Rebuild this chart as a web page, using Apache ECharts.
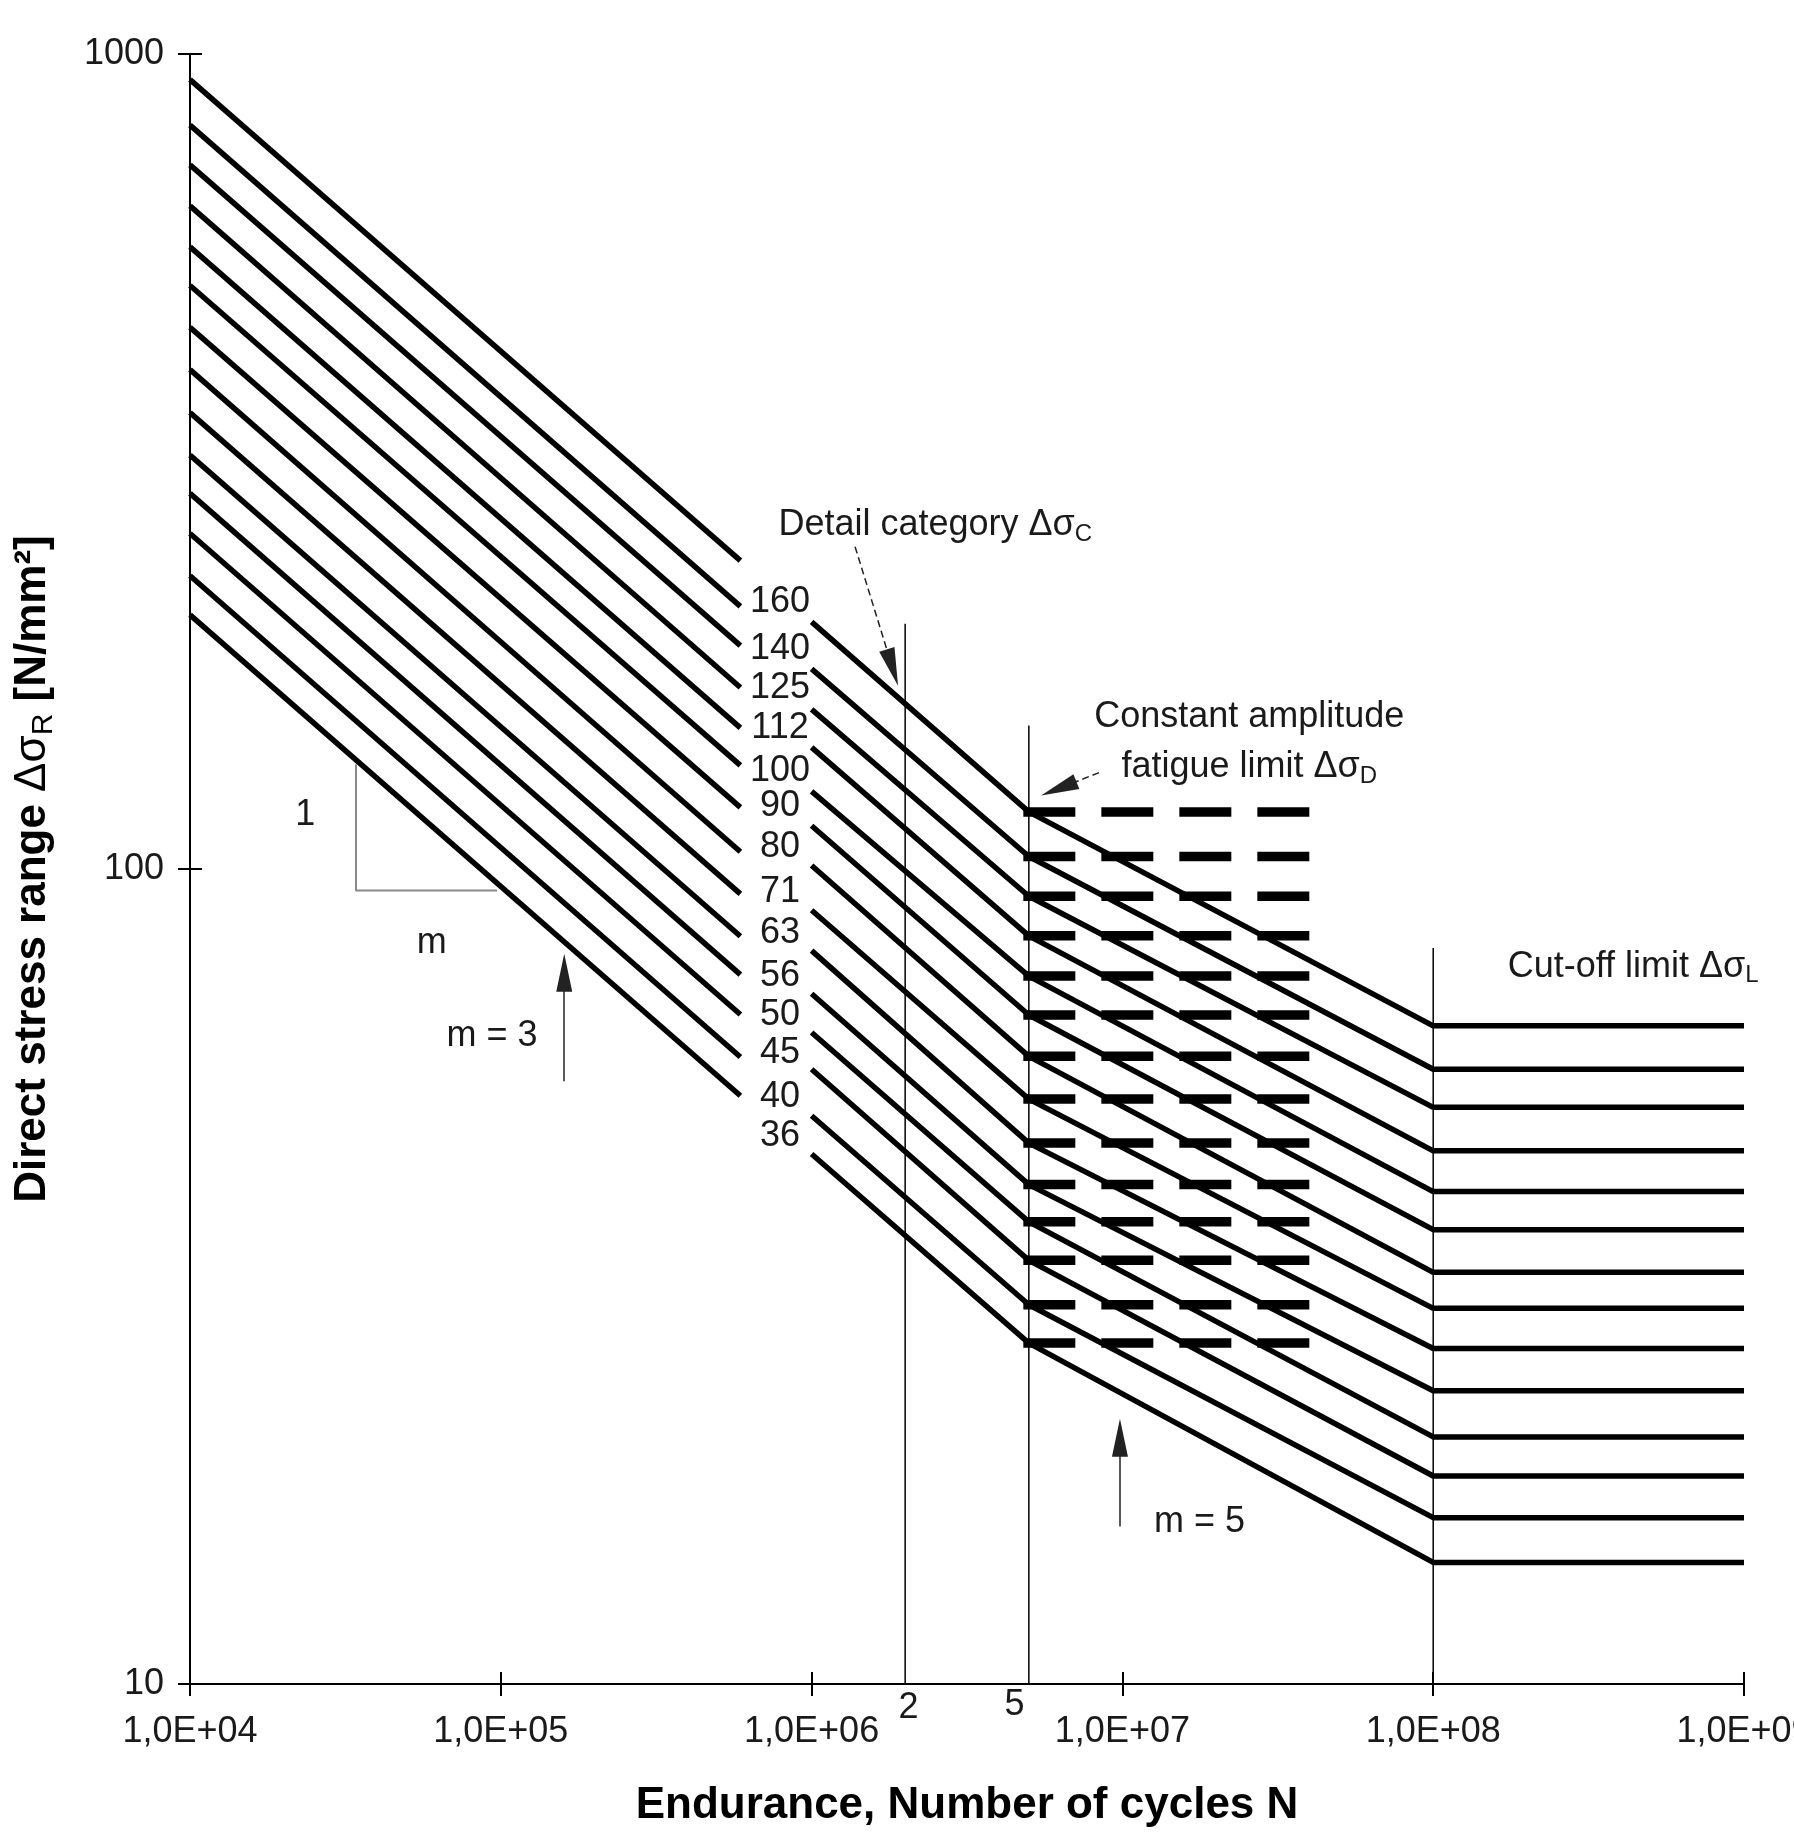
<!DOCTYPE html>
<html>
<head>
<meta charset="utf-8">
<script src="https://cdn.jsdelivr.net/npm/echarts@6/dist/echarts.min.js"></script>
<style>
  html, body { margin: 0; padding: 0; background: #fff; }
  #chart { width: 1794px; height: 1835px; }
</style>
</head>
<body>
<div id="chart"></div>
<script>
// detail categories (N/mm²), top curve first
const categories = [160, 140, 125, 112, 100, 90, 80, 71, 63, 56, 50, 45, 40, 36];
// stress range read at the corners of each curve
const sigmaAt1e4   = [930, 818, 731, 651, 580, 520, 462, 410, 363, 322, 289, 258, 229, 205];
const sigmaAtBreak = [239, 210, 188, 167, 149, 134, 119, 105, 93.2, 82.7, 74.2, 66.3, 58.8, 52.7];
const sigmaAt1e6   = [201, 176, 157, 141, 124.5, 113, 101, 89, 79.4, 70.3, 63, 56.8, 49.8, 44.7];
const sigmaD       = [117.5, 103.6, 92.6, 82.8, 73.9, 66.2, 58.9, 52.2, 46.1, 41.0, 36.9, 33.1, 29.2, 26.2];
const sigmaL       = [64.2, 56.8, 51.0, 45.1, 40.2, 36.1, 32.0, 28.9, 25.8, 22.9, 20.1, 18.0, 16.0, 14.1];
// cycle counts of the corners
const nStart = 1e4, nBreak = 5.9e5, nResume = 1e6, nD = 5e6, nL = 1e8, nEnd = 1e9;
const dashFrom = 4.8e6, dashTo = 4.0e7;
// thin vertical reference lines
const refN   = [2e6, 5e6, 1e8];
const refTop = [200, 150, 80];

const FONT = "'Liberation Sans', Arial, Helvetica, sans-serif";
const chart = echarts.init(document.getElementById('chart'));

const series = [];
categories.forEach((c, i) => {
    series.push({
        type: 'line', symbol: 'none', silent: true,
        data: [[nStart, sigmaAt1e4[i]], [nBreak, sigmaAtBreak[i]]],
        lineStyle: { color: '#000', width: 5.5 }
    });
    series.push({
        type: 'line', symbol: 'none', silent: true,
        data: [[nResume, sigmaAt1e6[i]], [nD, sigmaD[i]], [nL, sigmaL[i]], [nEnd, sigmaL[i]]],
        lineStyle: { color: '#000', width: 5.5 }
    });
    series.push({
        type: 'line', symbol: 'none', silent: true,
        data: [[dashFrom, sigmaD[i]], [dashTo, sigmaD[i]]],
        lineStyle: { color: '#000', width: 9.5, type: [52, 26], cap: 'butt' }
    });
});
refN.forEach((n, i) => {
    series.push({
        type: 'line', symbol: 'none', silent: true,
        data: [[n, 10], [n, refTop[i]]],
        lineStyle: { color: '#000', width: 1.5 }
    });
});
// slope triangle
series.push({
    type: 'line', symbol: 'none', silent: true,
    data: [[3.42e4, 134.3], [3.42e4, 94.1], [9.73e4, 94.1]],
    lineStyle: { color: '#888', width: 2 }
});

function arrow(from, to) {
    return [
        { coord: from, symbol: 'none' },
        { coord: to, symbol: 'triangle', symbolSize: [16, 38] }
    ];
}
series.push({
    type: 'line', data: [], silent: true,
    markLine: {
        silent: true, animation: false,
        symbol: ['none', 'triangle'],
        symbolSize: [0, [16, 38]],
        label: { show: false },
        lineStyle: { color: '#222', width: 1.5, type: 'solid' },
        data: [
            arrow([1.6e5, 54.9], [1.6e5, 74.6]),
            arrow([9.82e6, 15.6], [9.82e6, 20.05])
        ]
    }
});
series.push({
    type: 'line', data: [], silent: true,
    markLine: {
        silent: true, animation: false,
        symbol: ['none', 'triangle'],
        symbolSize: [0, [16, 36]],
        label: { show: false },
        lineStyle: { color: '#222', width: 1.5, type: [7, 4] },
        data: [
            arrow([1.38e6, 248.6], [1.82e6, 176.7]),
            arrow([8.41e6, 131.3], [6.24e6, 125.5])
        ]
    }
});

const xAxisBase = { type: 'log', logBase: 10, min: 1e4, max: 1e9, splitLine: { show: false } };
const yAxisBase = { type: 'log', logBase: 10, min: 10, max: 1000, splitLine: { show: false } };

chart.setOption({
    animation: false,
    backgroundColor: '#fff',
    grid: { left: 190, right: 50, top: 54, bottom: 151, containLabel: false, outerBoundsMode: 'none' },
    xAxis: [
        Object.assign({}, xAxisBase, {
            position: 'bottom',
            axisLine: { lineStyle: { color: '#000', width: 2 } },
            axisTick: { length: 12, lineStyle: { color: '#000', width: 2 } },
            axisLabel: {
                margin: 30, fontSize: 36, fontFamily: FONT, color: '#1a1a1a',
                formatter: v => '1,0E+' + String(Math.round(Math.log10(v))).padStart(2, '0')
            }
        }),
        Object.assign({}, xAxisBase, {
            position: 'bottom',
            axisLine: { show: false },
            axisTick: { inside: true, length: 12, lineStyle: { color: '#000', width: 2 } },
            axisLabel: { show: false }
        })
    ],
    yAxis: [
        Object.assign({}, yAxisBase, {
            position: 'left',
            axisLine: { lineStyle: { color: '#000', width: 2 } },
            axisTick: { length: 12, lineStyle: { color: '#000', width: 2 } },
            axisLabel: {
                margin: 26, fontSize: 36, fontFamily: FONT, color: '#1a1a1a',
                formatter: v => String(Math.round(v))
            }
        }),
        Object.assign({}, yAxisBase, {
            position: 'left',
            axisLine: { show: false },
            axisTick: { inside: true, length: 12, lineStyle: { color: '#000', width: 2 } },
            axisLabel: { show: false }
        })
    ],
    series: series.map(s => Object.assign({ xAxisIndex: 0, yAxisIndex: 0 }, s))
});

// ---- texts, placed through the axes ----
function px(n, s) { return chart.convertToPixel({ xAxisIndex: 0, yAxisIndex: 0 }, [n, s]); }

const txt = { fontSize: 36, fontFamily: FONT, fill: '#1a1a1a', lineHeight: 42 };
const sub = { fontSize: 24, fontFamily: FONT, fill: '#1a1a1a', lineHeight: 24, verticalAlign: 'bottom' };

function note(text, n, s, align) {
    const p = px(n, s);
    return {
        type: 'text', x: p[0], y: p[1], silent: true,
        style: {
            text: text, align: align || 'center', verticalAlign: 'middle',
            fontSize: 36, fontFamily: FONT, fill: '#1a1a1a',
            rich: { t: txt, s: sub }
        }
    };
}

const graphics = [
    note('{t|Detail category Δσ}{s|C}', 7.82e5, 264, 'left'),
    note('{t|Constant amplitude}', 2.56e7, 153.6),
    note('{t|fatigue limit Δσ}{s|D}', 2.56e7, 133.2),
    note('{t|Cut-off limit Δσ}{s|L}', 4.4e8, 75.9),
    note('{t|1}', 2.35e4, 116.6),
    note('{t|m}', 6.0e4, 81.1),
    note('{t|m = 3}', 9.37e4, 62.3),
    note('{t|m = 5}', 1.77e7, 15.8),
    note('{t|2}', 2.05e6, 9.33),
    note('{t|5}', 4.5e6, 9.43)
];

// category numbers in the gap of each curve
categories.forEach((c, i) => {
    const p = px(Math.sqrt(nBreak * nResume), Math.sqrt(sigmaAtBreak[i] * sigmaAt1e6[i]));
    graphics.push({
        type: 'text', x: p[0] + 4, y: p[1] + 11, silent: true,
        style: { text: String(c), align: 'center', verticalAlign: 'middle',
                 fontSize: 36, fontFamily: FONT, fill: '#1a1a1a' }
    });
});

// axis titles
const pl = px(nStart, 10), pr = px(nEnd, 1000);
graphics.push({
    type: 'text', x: (pl[0] + pr[0]) / 2, y: pl[1] + 122, silent: true,
    style: { text: 'Endurance, Number of cycles N', align: 'center', verticalAlign: 'middle',
             fontSize: 44, fontWeight: 'bold', fontFamily: FONT, fill: '#000' }
});
graphics.push({
    type: 'text', x: 33, y: (pl[1] + pr[1]) / 2, rotation: Math.PI / 2, silent: true,
    style: {
        text: '{b|Direct stress range }{g|Δσ}{s|R}{b| [N/mm²]}',
        align: 'center', verticalAlign: 'middle',
        rich: {
            b: { fontSize: 44, fontWeight: 'bold', fontFamily: FONT, fill: '#000', lineHeight: 52 },
            g: { fontSize: 44, fontFamily: FONT, fill: '#000', lineHeight: 52 },
            s: { fontSize: 30, fontFamily: FONT, fill: '#000', lineHeight: 30, verticalAlign: 'bottom' }
        }
    }
});

chart.setOption({ graphic: graphics });
</script>
</body>
</html>
